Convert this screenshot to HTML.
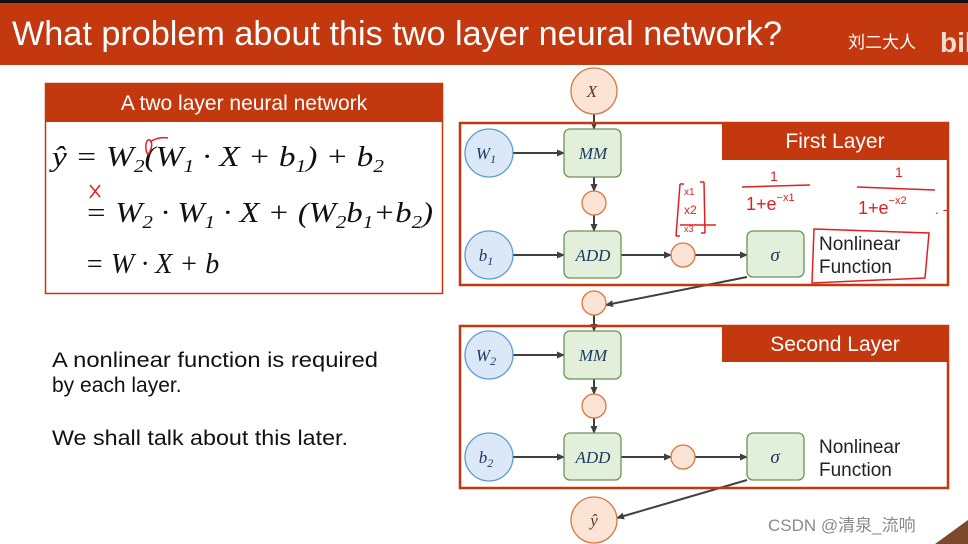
<!DOCTYPE html>
<html><head><meta charset="utf-8"><style>
html,body{margin:0;padding:0;background:#fff;}
svg{display:block;}
.s{font-family:"Liberation Sans","Noto Sans CJK SC",sans-serif;}
.m{font-family:"Liberation Serif",serif;font-style:italic;}
</style></head><body>
<svg width="968" height="544" viewBox="0 0 968 544" xmlns="http://www.w3.org/2000/svg">
<defs><marker id="a" markerWidth="8" markerHeight="8" refX="7" refY="4" orient="auto" markerUnits="userSpaceOnUse"><path d="M0,0.5 L8,4 L0,7.5z" fill="#404040"/></marker></defs>
<rect x="0" y="0" width="968" height="3" fill="#111"/>
<rect x="0" y="3" width="968" height="62" fill="#C4380F"/>
<text class="s" x="12" y="45" font-size="34" fill="#fff" textLength="770" lengthAdjust="spacingAndGlyphs">What problem about this two layer neural network?</text>
<text class="s" x="848" y="48" font-size="17" fill="#fff">刘二大人</text>
<text class="s" x="940" y="52" font-size="28" fill="#f2dcd4" font-weight="bold">bil</text>

<!-- left box -->
<rect x="45.5" y="83.5" width="397" height="210" fill="#fff" stroke="#C4380F" stroke-width="1.5"/>
<rect x="45" y="83" width="398" height="39" fill="#C4380F"/>
<text class="s" x="244" y="110" font-size="21" fill="#fff" text-anchor="middle">A two layer neural network</text>
<text class="m" x="52" y="166" font-size="28" fill="#111" textLength="332" lengthAdjust="spacingAndGlyphs">ŷ = W<tspan font-size="18" dy="6">2</tspan><tspan dy="-6">(W</tspan><tspan font-size="18" dy="6">1</tspan><tspan dy="-6"> · X + b</tspan><tspan font-size="18" dy="6">1</tspan><tspan dy="-6">) + b</tspan><tspan font-size="18" dy="6">2</tspan></text>
<text class="m" x="85" y="222" font-size="28" fill="#111" textLength="348" lengthAdjust="spacingAndGlyphs">= W<tspan font-size="18" dy="6">2</tspan><tspan dy="-6"> · W</tspan><tspan font-size="18" dy="6">1</tspan><tspan dy="-6"> · X + (W</tspan><tspan font-size="18" dy="6">2</tspan><tspan dy="-6">b</tspan><tspan font-size="18" dy="6">1</tspan><tspan dy="-6">+b</tspan><tspan font-size="18" dy="6">2</tspan><tspan dy="-6">)</tspan></text>
<text class="m" x="85" y="273" font-size="28" fill="#111">= W · X + b</text>
<path d="M90,185 L100,197 M100,185 L90,198" stroke="#e02020" stroke-width="1.5" fill="none"/>
<path d="M148,155 C144,148 146,138 150,140 C154,144 150,152 148,155 M150,142 C156,138 162,137 168,138" stroke="#e02020" stroke-width="1.5" fill="none"/>

<text class="s" x="52" y="367" font-size="21" fill="#111" textLength="326" lengthAdjust="spacingAndGlyphs">A nonlinear function is required</text>
<text class="s" x="52" y="392" font-size="21" fill="#111">by each layer.</text>
<text class="s" x="52" y="445" font-size="21" fill="#111" textLength="296" lengthAdjust="spacingAndGlyphs">We shall talk about this later.</text>

<g stroke="#404040" stroke-width="2" fill="none">
<line x1="594" y1="114" x2="594" y2="129" marker-end="url(#a)"/>
<line x1="513" y1="153" x2="564" y2="153" marker-end="url(#a)"/>
<line x1="594" y1="177" x2="594" y2="191" marker-end="url(#a)"/>
<line x1="594" y1="215" x2="594" y2="231" marker-end="url(#a)"/>
<line x1="513" y1="255" x2="564" y2="255" marker-end="url(#a)"/>
<line x1="621" y1="255" x2="671" y2="255" marker-end="url(#a)"/>
<line x1="695" y1="255" x2="747" y2="255" marker-end="url(#a)"/>
<line x1="747" y1="277" x2="606" y2="305" marker-end="url(#a)"/>
<line x1="594" y1="315" x2="594" y2="331" marker-end="url(#a)"/>
<line x1="513" y1="355" x2="564" y2="355" marker-end="url(#a)"/>
<line x1="594" y1="379" x2="594" y2="394" marker-end="url(#a)"/>
<line x1="594" y1="418" x2="594" y2="433" marker-end="url(#a)"/>
<line x1="513" y1="457" x2="564" y2="457" marker-end="url(#a)"/>
<line x1="621" y1="457" x2="671" y2="457" marker-end="url(#a)"/>
<line x1="695" y1="457" x2="747" y2="457" marker-end="url(#a)"/>
<line x1="747" y1="480" x2="617" y2="518" marker-end="url(#a)"/>
</g>

<rect x="460" y="123" width="488" height="162" fill="none" stroke="#C4380F" stroke-width="2.5"/>
<rect x="722" y="122" width="227" height="38" fill="#C4380F"/>
<text class="s" x="835" y="148" font-size="21" fill="#fff" text-anchor="middle">First Layer</text>
<rect x="460" y="326" width="488" height="162" fill="none" stroke="#C4380F" stroke-width="2.5"/>
<rect x="722" y="325" width="227" height="37" fill="#C4380F"/>
<text class="s" x="835" y="351" font-size="21" fill="#fff" text-anchor="middle">Second Layer</text>

<g fill="#FBE3D6" stroke="#D9773F" stroke-width="1.3">
<circle cx="594" cy="91" r="23"/>
<circle cx="594" cy="203" r="12"/>
<circle cx="683" cy="255" r="12"/>
<circle cx="594" cy="303" r="12"/>
<circle cx="594" cy="406" r="12"/>
<circle cx="683" cy="457" r="12"/>
<circle cx="594" cy="520" r="23"/>
</g>
<g fill="#DAE8F8" stroke="#5B9BD5" stroke-width="1.3">
<circle cx="489" cy="153" r="24"/><circle cx="489" cy="255" r="24"/>
<circle cx="489" cy="355" r="24"/><circle cx="489" cy="457" r="24"/>
</g>
<g fill="#E2EFDA" stroke="#6E9256" stroke-width="1.3">
<rect x="564" y="129" width="57" height="48" rx="6"/>
<rect x="564" y="231" width="57" height="47" rx="6"/>
<rect x="747" y="231" width="57" height="46" rx="6"/>
<rect x="564" y="331" width="57" height="48" rx="6"/>
<rect x="564" y="433" width="57" height="47" rx="6"/>
<rect x="747" y="433" width="57" height="47" rx="6"/>
</g>
<g class="m" font-size="17" fill="#1f3a60" text-anchor="middle">
<text x="592" y="97" fill="#5a3a20">X</text>
<text x="593" y="159">MM</text><text x="593" y="261">ADD</text><text x="775" y="261" font-size="19">σ</text>
<text x="593" y="361">MM</text><text x="593" y="463">ADD</text><text x="775" y="463" font-size="19">σ</text>
<text x="594" y="526" fill="#5a3a20">ŷ</text>
<text x="486" y="159">W<tspan font-size="12" dy="4">1</tspan></text>
<text x="486" y="261">b<tspan font-size="12" dy="4">1</tspan></text>
<text x="486" y="361">W<tspan font-size="12" dy="4">2</tspan></text>
<text x="486" y="463">b<tspan font-size="12" dy="4">2</tspan></text>
</g>
<g class="s" font-size="19" fill="#222">
<text x="819" y="250">Nonlinear</text><text x="819" y="273">Function</text>
<text x="819" y="453">Nonlinear</text><text x="819" y="476">Function</text>
</g>
<g stroke="#e02020" stroke-width="1.5" fill="none">
<path d="M814,229 L929,233 L925,278 L812,283 Z"/>
<path d="M680,184 L676,236 M680,184 L684,184 M676,236 L680,236 M704,182 L705,233 M700,182 L704,182 M701,233 L705,233 M680,225 L716,225"/>
<path d="M742,187 L810,185 M857,187 L935,190"/>
</g>
<g class="s" fill="#e02020" font-size="14">
<text x="684" y="195" font-size="10">x1</text><text x="684" y="214" font-size="12">x2</text><text x="684" y="232" font-size="9">x3</text>
<text x="770" y="181">1</text><text x="746" y="210" font-size="18">1+e<tspan font-size="11" dy="-9">−x1</tspan></text>
<text x="895" y="177">1</text><text x="858" y="214" font-size="18">1+e<tspan font-size="11" dy="-10">−x2</tspan></text>
<text x="935" y="214">. -</text>
</g>
<text class="s" x="768" y="531" font-size="17" fill="#8a8a8a">CSDN @清泉_流响</text>
<path d="M935,544 L968,520 L968,544 Z" fill="#7a4a2a"/>
</svg>
</body></html>
